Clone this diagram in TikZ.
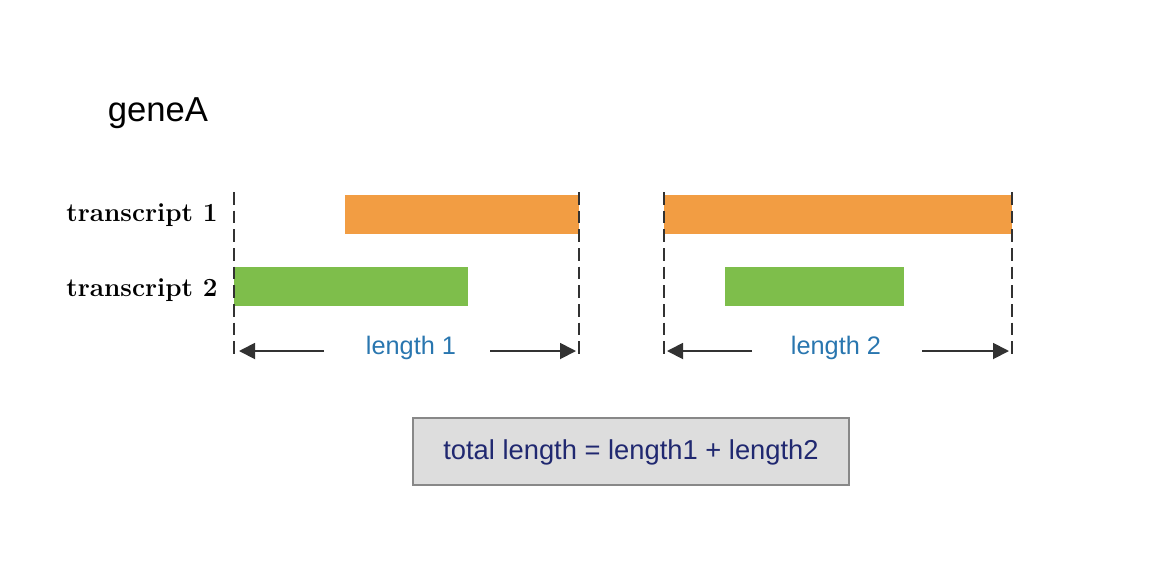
\documentclass[tikz,border=0pt]{standalone}
\usepackage{fontspec}
\setsansfont{Liberation Sans}
\usetikzlibrary{arrows.meta}
\definecolor{orbar}{RGB}{242,157,67}
\definecolor{grbar}{RGB}{126,190,75}
\definecolor{dline}{RGB}{50,50,50}
\definecolor{lenblue}{RGB}{41,118,175}
\definecolor{navy}{RGB}{32,40,112}
\definecolor{boxfill}{RGB}{221,221,221}
\definecolor{boxline}{RGB}{136,136,136}
\tikzset{
  bar/.style={draw=none,inner sep=0pt,anchor=north west},
  guide/.style={draw=dline,line width=1.2pt,dash pattern=on 9.5pt off 4.5pt},
  dimarrow/.style={draw=dline,line width=1.4pt,-{Triangle[length=12pt,width=12pt]}},
  lenlabel/.style={text=lenblue,font=\sffamily\fontsize{19}{22}\selectfont,inner sep=0pt},
  tlabel/.style={font=\bfseries\fontsize{19.6}{22}\selectfont,inner sep=0pt},
}
\begin{document}
\begin{tikzpicture}[x=0.75pt,y=-0.75pt]
\useasboundingbox (0,0) rectangle (1150,562);
\node[font=\sffamily\fontsize{26}{30}\selectfont,inner sep=0pt] (gene) at (158,113) {geneA};
\node[tlabel] (t1) at (142,215) {transcript 1};
\node[tlabel] (t2) at (142,290) {transcript 2};
% bars
\fill[orbar] (345,195) rectangle (579,234);
\fill[orbar] (664,195) rectangle (1012,234);
\fill[grbar] (234,267) rectangle (468,306);
\fill[grbar] (725,267) rectangle (904,306);
% guides
\coordinate (g1t) at (234,192); \coordinate (g1b) at (234,355);
\coordinate (g2t) at (579,192); \coordinate (g2b) at (579,355);
\coordinate (g3t) at (664,192); \coordinate (g3b) at (664,355);
\coordinate (g4t) at (1012,192); \coordinate (g4b) at (1012,355);
\draw[guide] (g1t) -- (g1b);
\draw[guide] (g2t) -- (g2b);
\draw[guide] (g3t) -- (g3b);
\draw[guide] (g4t) -- (g4b);
% length labels
\node[lenlabel] (l1) at (411,347.5) {length 1};
\node[lenlabel] (l2) at (836,347.5) {length 2};
\coordinate (a1s) at (324,351); \coordinate (a1e) at (239,351);
\coordinate (a2s) at (490,351); \coordinate (a2e) at (576,351);
\coordinate (a3s) at (752,351); \coordinate (a3e) at (667,351);
\coordinate (a4s) at (922,351); \coordinate (a4e) at (1009,351);
\draw[dimarrow] (a1s) -- (a1e);
\draw[dimarrow] (a2s) -- (a2e);
\draw[dimarrow] (a3s) -- (a3e);
\draw[dimarrow] (a4s) -- (a4e);
% total box
\node[draw=boxline,line width=1.3pt,fill=boxfill,minimum width=436*0.75pt,minimum height=67*0.75pt,inner sep=0pt] (total) at (631,451.5) {};
\node[text=navy,font=\sffamily\fontsize{20.5}{24}\selectfont,inner sep=0pt] (totaltext) at (631,452) {total length = length1 + length2};
\end{tikzpicture}
\end{document}
